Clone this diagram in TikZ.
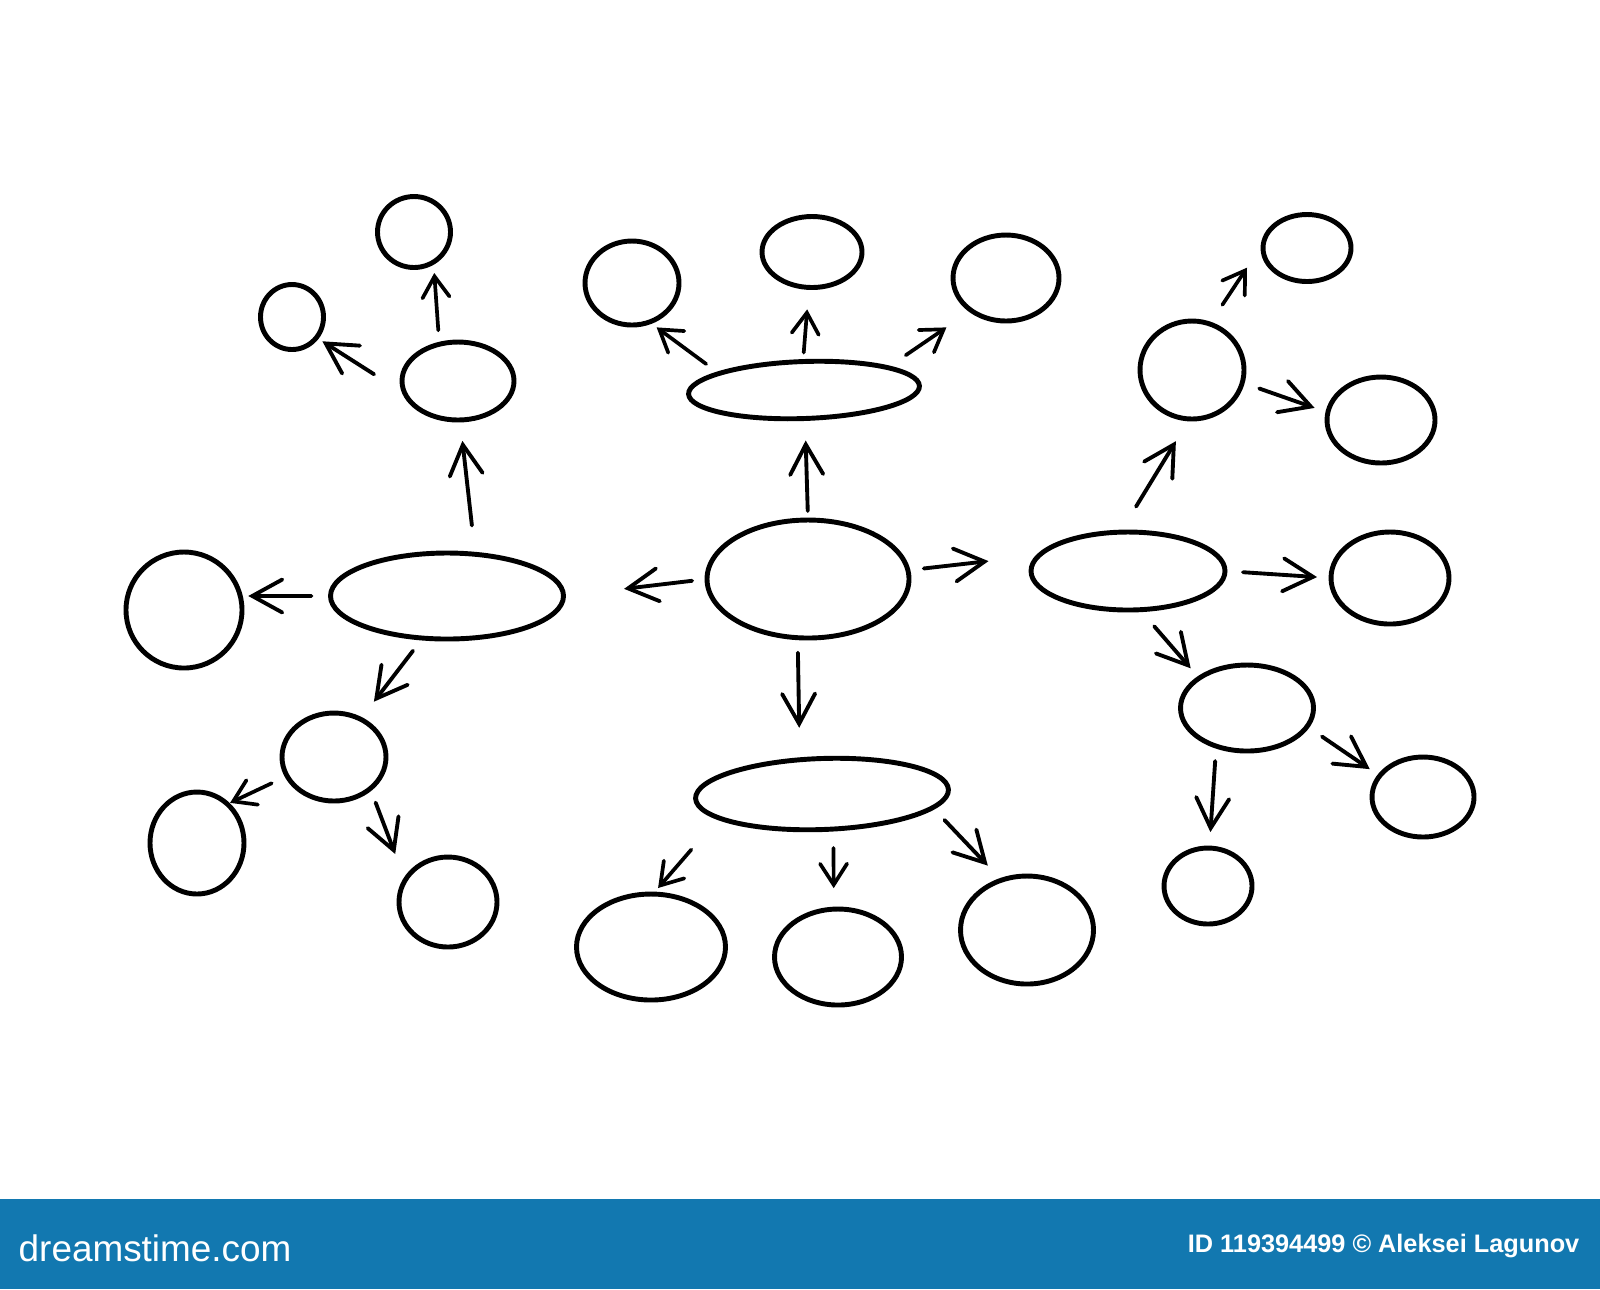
\documentclass[tikz,border=0pt]{standalone}
\usepackage{fontspec}
\usepackage{tikz}
\usetikzlibrary{shapes.geometric,arrows.meta}
\newfontfamily\bannerfont{Liberation Sans}
\definecolor{bannerblue}{RGB}{18,120,176}

\begin{document}
\begin{tikzpicture}[
bubble/.style 2 args={ellipse, draw=black, line width=1.4pt, inner sep=0pt, outer sep=0pt, minimum width=#1cm, minimum height=#2cm},
link/.style={->, line width=1.1pt, line cap=round},
smalllink/.style={-{Straight Barb[length=2.1mm, width=2.7mm, line cap=round]}, line width=1.05pt, line cap=round},
>={Straight Barb[length=3mm, width=3.3mm, line cap=round]},
]
\useasboundingbox (0,0) rectangle (16,-12.89);
%Nodes
\node[bubble={2.02}{1.18}]              (hub)          at (8.08,-5.79)      {};
\node[bubble={2.31}{0.57}, rotate=2]    (top)          at (8.04,-3.90)      {};
\node[bubble={2.33}{0.86}]              (left)         at (4.47,-5.96)      {};
\node[bubble={1.94}{0.78}]              (right)        at (11.28,-5.71)     {};
\node[bubble={2.53}{0.71}, rotate=2]    (bottom)       at (8.22,-7.94)      {};
\node[bubble={1.12}{0.78}]              (leftup)       at (4.58,-3.81)      {};
\node[bubble={0.73}{0.71}]              (leftupa)      at (4.14,-2.32)      {};
\node[bubble={0.63}{0.65}]              (leftupb)      at (2.92,-3.17)      {};
\node[bubble={1.16}{1.16}]              (leftfar)      at (1.84,-6.10)      {};
\node[bubble={1.04}{0.88}]              (leftdown)     at (3.34,-7.57)      {};
\node[bubble={0.94}{1.02}]              (leftdowna)    at (1.97,-8.43)      {};
\node[bubble={0.98}{0.90}]              (leftdownb)    at (4.48,-9.02)      {};
\node[bubble={0.94}{0.84}]              (topa)         at (6.32,-2.83)      {};
\node[bubble={1.00}{0.71}]              (topb)         at (8.12,-2.52)      {};
\node[bubble={1.06}{0.86}]              (topc)         at (10.06,-2.78)     {};
\node[bubble={1.04}{0.98}]              (rightup)      at (11.92,-3.70)     {};
\node[bubble={0.88}{0.67}]              (rightupa)     at (13.07,-2.48)     {};
\node[bubble={1.08}{0.86}]              (rightupb)     at (13.81,-4.20)     {};
\node[bubble={1.18}{0.92}]              (rightmid)     at (13.90,-5.78)     {};
\node[bubble={1.33}{0.86}]              (rightdown)    at (12.47,-7.08)     {};
\node[bubble={1.02}{0.80}]              (rightdowna)   at (14.23,-7.97)     {};
\node[bubble={0.88}{0.76}]              (rightdownb)   at (12.08,-8.86)     {};
\node[bubble={1.49}{1.06}]              (bota)         at (6.51,-9.47)      {};
\node[bubble={1.27}{0.96}]              (botb)         at (8.38,-9.57)      {};
\node[bubble={1.33}{1.08}]              (botc)         at (10.27,-9.30)     {};
%Lines
\draw[link, shorten <=0.9mm, shorten >=2.2mm] (hub.north) -- (top.south);
\draw[link, shorten <=1.5mm, shorten >=6.1mm] (hub.west) -- (left.east);
\draw[link, shorten <=1.6mm, shorten >=5.1mm] (hub.5) -- (right.170);
\draw[link, shorten <=1.5mm, shorten >=3.2mm] (hub.260) -- (bottom.121);
\draw[smalllink, shorten <=1.6mm, shorten >=0.9mm] (top.167) -- (topa.-66);
\draw[smalllink, shorten <=0.9mm, shorten >=2.2mm] (top.north) -- (topb.265);
\draw[smalllink, shorten <=2.2mm, shorten >=3.0mm] (top.13) -- (topc.223);
\draw[link, shorten <=2.9mm, shorten >=2.1mm] (left.56) -- (leftup.-87);
\draw[link, shorten <=1.9mm, shorten >=0.8mm] (left.west) -- (leftfar.14);
\draw[link, shorten <=1.6mm, shorten >=2.2mm] (left.240) -- (leftdown.55);
\draw[smalllink, shorten <=1.4mm, shorten >=1.1mm] (leftup.117) -- (leftupa.-57);
\draw[link, shorten <=3.7mm, shorten >=0.7mm] (leftup.194) -- (leftupb.-40);
\draw[smalllink, shorten <=1.7mm, shorten >=0.3mm] (leftdown.202) -- (leftdowna.52);
\draw[link, shorten <=1.5mm, shorten >=2.8mm] (leftdown.-41) -- (leftdownb.153);
\draw[link, shorten <=3.0mm, shorten >=2.6mm] (right.101) -- (rightup.267);
\draw[link, shorten <=1.8mm, shorten >=1.4mm] (right.east) -- (rightmid.west);
\draw[link, shorten <=2.2mm, shorten >=1.3mm] (right.-73) -- (rightdown.148);
\draw[smalllink, shorten <=2.3mm, shorten >=3.0mm] (rightup.69) -- (rightupa.173);
\draw[link, shorten <=1.8mm, shorten >=1.4mm] (rightup.-14) -- (rightupb.172);
\draw[link, shorten <=1.8mm, shorten >=1.2mm] (rightdown.-17) -- (rightdowna.154);
\draw[link, shorten <=1.5mm, shorten >=1.6mm] (rightdown.231) -- (rightdownb.88);
\draw[smalllink, shorten <=4.2mm, shorten >=0.8mm] (bottom.191) -- (bota.88);
\draw[smalllink, shorten <=1.9mm, shorten >=2.1mm] (bottom.-74) -- (botb.95);
\draw[link, shorten <=1.7mm, shorten >=2.0mm] (bottom.-9) -- (botc.117);
%Text
\fill[bannerblue] (0,-11.99) rectangle (16,-12.89);
\node[anchor=base west, inner sep=0pt, text=white, font=\bannerfont\fontsize{10.5}{12}\selectfont] (brand) at (0.18,-12.61) {dreamstime.com};
\node[anchor=base east, inner sep=0pt, text=white, font=\bannerfont\bfseries\fontsize{7.2}{9}\selectfont] (credit) at (15.80,-12.52) {ID 119394499 © Aleksei Lagunov};
\end{tikzpicture}
\end{document}
